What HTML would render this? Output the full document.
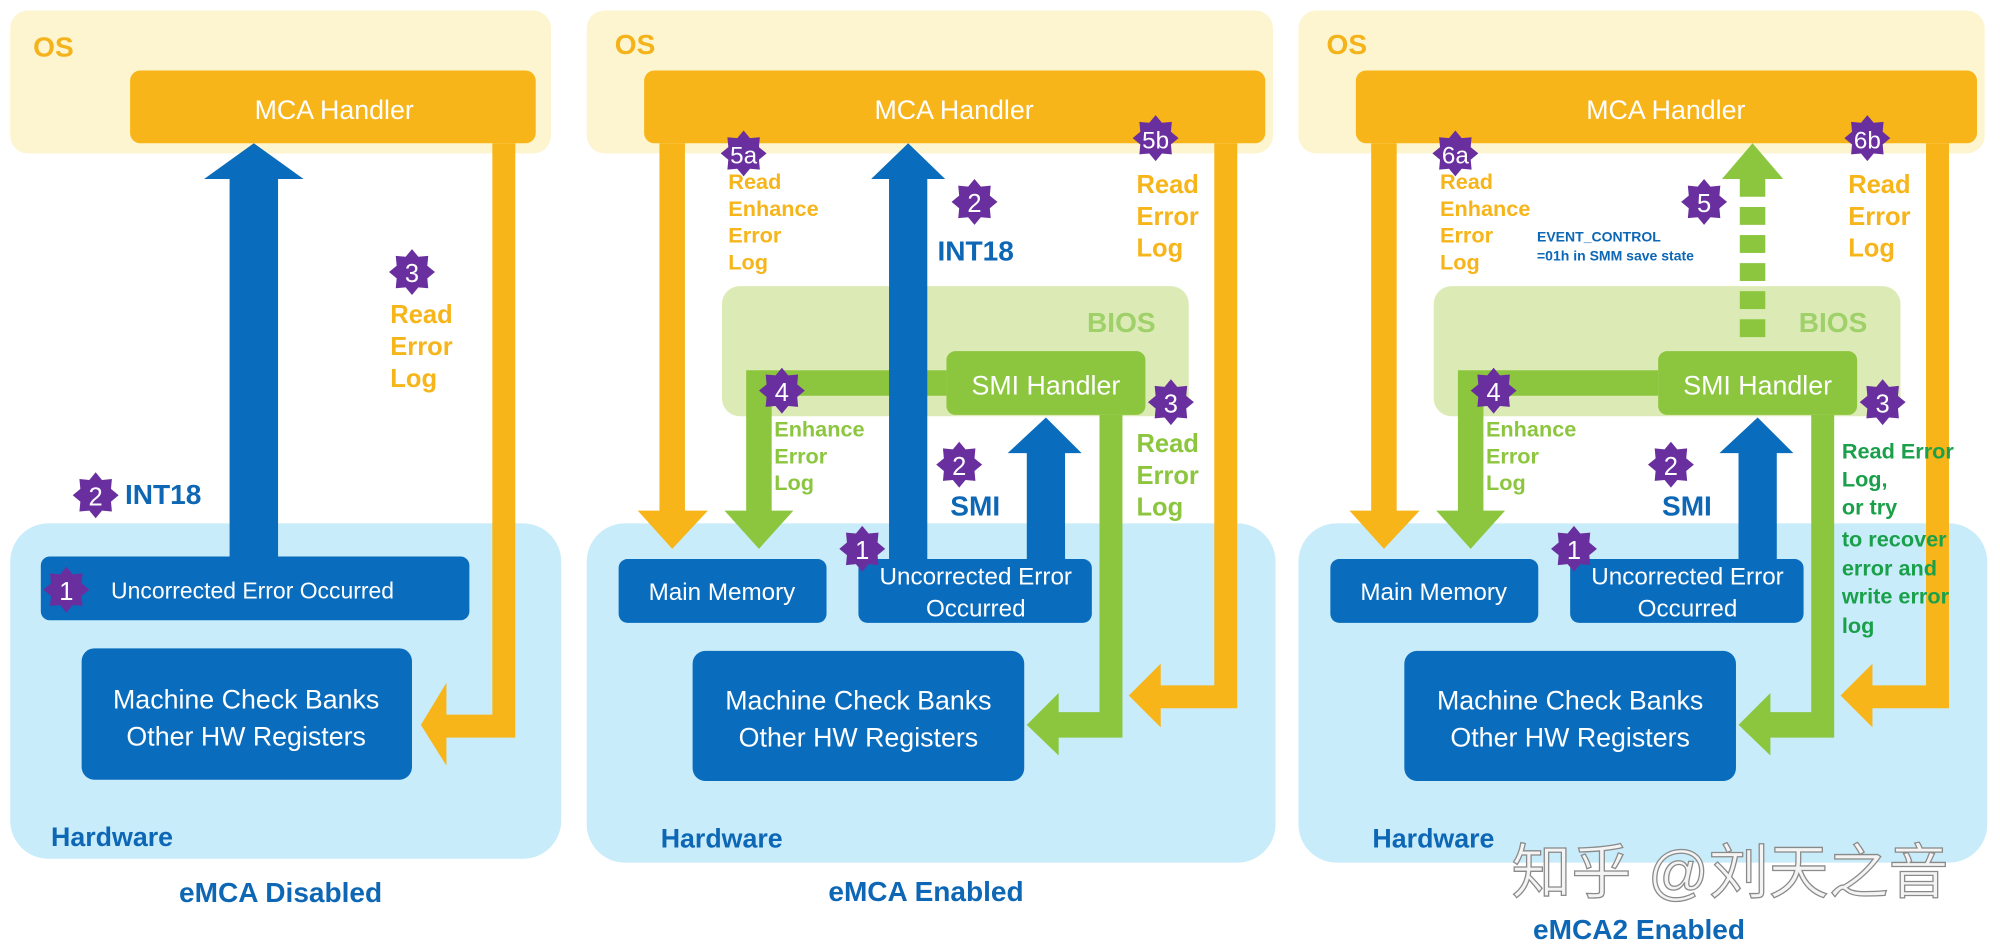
<!DOCTYPE html>
<html><head><meta charset="utf-8"><style>
html,body{margin:0;padding:0;background:#fff;width:2000px;height:951px;overflow:hidden}
svg{display:block}
text{font-family:"Liberation Sans","Noto Sans CJK SC",sans-serif}
.w{fill:#fff;font-size:21px}
.b{font-weight:bold}
</style></head><body>
<svg width="2000" height="951" viewBox="0 0 1568 745" xmlns="http://www.w3.org/2000/svg">
<defs>
<symbol id="st" viewBox="-19 -19 38 38" overflow="visible">
<polygon points="0,-18 4.97,-12.01 12.73,-12.73 12.01,-4.97 18,0 12.01,4.97 12.73,12.73 4.97,12.01 0,18 -4.97,12.01 -12.73,12.73 -12.01,4.97 -18,0 -12.01,-4.97 -12.73,-12.73 -4.97,-12.01" fill="#6a2f9e"/>
</symbol>
</defs>

<!-- ===== Panel 1 ===== -->
<rect x="8" y="8" width="424" height="112" rx="14" fill="#fdf5cf"/>
<text x="26" y="44" class="b" font-size="22" fill="#f4b21b">OS</text>
<rect x="102" y="55" width="318" height="57" rx="8" fill="#f7b51a"/>
<text x="262" y="93" class="w" text-anchor="middle">MCA  Handler</text>
<rect x="8" y="410" width="432" height="263" rx="30" fill="#c8ecfa"/>
<text x="40" y="663" class="b" font-size="21" fill="#0d67b5">Hardware</text>
<rect x="32" y="436" width="336" height="50" rx="7" fill="#0a6cbd"/>
<text x="198" y="469" fill="#fff" font-size="18" text-anchor="middle">Uncorrected Error Occurred</text>
<rect x="64" y="508" width="259" height="103" rx="10" fill="#0a6cbd"/>
<text x="193" y="555" class="w" text-anchor="middle">Machine Check Banks</text>
<text x="193" y="584" class="w" text-anchor="middle">Other HW Registers</text>
<polygon points="180,436 180,140 160,140 199,112 238,140 218,140 218,436" fill="#0a6cbd"/>
<polygon points="386,112 404,112 404,578 350,578 350,600 330,568 350,535 350,560 386,560" fill="#f7b51a"/>
<use href="#st" x="304" y="194" width="38" height="38"/><text x="323" y="221" fill="#fff" font-size="20" text-anchor="middle">3</text>
<text x="306" y="253" class="b" font-size="20" fill="#f6b51a">Read</text>
<text x="306" y="278" class="b" font-size="20" fill="#f6b51a">Error</text>
<text x="306" y="303" class="b" font-size="20" fill="#f6b51a">Log</text>
<use href="#st" x="56" y="369" width="38" height="38"/><text x="75" y="396" fill="#fff" font-size="20" text-anchor="middle">2</text>
<text x="98" y="395" class="b" font-size="22" fill="#0d67b5">INT18</text>
<use href="#st" x="33" y="443" width="38" height="38"/><text x="52" y="470" fill="#fff" font-size="20" text-anchor="middle">1</text>
<text x="220" y="707" class="b" font-size="22" fill="#0d67b5" text-anchor="middle">eMCA Disabled</text>

<!-- ===== Panel 2 ===== -->
<rect x="460" y="8" width="538" height="112" rx="14" fill="#fdf5cf"/>
<text x="482" y="42" class="b" font-size="22" fill="#f4b21b">OS</text>
<rect x="460" y="410" width="540" height="266" rx="30" fill="#c8ecfa"/>
<text x="518" y="664" class="b" font-size="21" fill="#0d67b5">Hardware</text>
<rect x="566" y="224" width="366" height="102" rx="14" fill="#dcebb5"/>
<text x="906" y="260" class="b" font-size="22" fill="#9fd06a" text-anchor="end">BIOS</text>
<rect x="505" y="55" width="487" height="57" rx="8" fill="#f7b51a"/>
<text x="748" y="93" class="w" text-anchor="middle">MCA Handler</text>
<rect x="485" y="438" width="163" height="50" rx="7" fill="#0a6cbd"/>
<text x="566" y="470" fill="#fff" font-size="19" text-anchor="middle">Main Memory</text>
<rect x="673" y="438" width="183" height="50" rx="7" fill="#0a6cbd"/>
<text x="765" y="458" fill="#fff" font-size="19" text-anchor="middle">Uncorrected Error</text>
<text x="765" y="483" fill="#fff" font-size="19" text-anchor="middle">Occurred</text>
<rect x="543" y="510" width="260" height="102" rx="10" fill="#0a6cbd"/>
<text x="673" y="556" class="w" text-anchor="middle">Machine Check Banks</text>
<text x="673" y="585" class="w" text-anchor="middle">Other HW Registers</text>
<polygon points="517,112 537,112 537,400 555,400 527,430 500,400 517,400" fill="#f7b51a"/>
<polygon points="742,290 742,310 605,310 605,400 622,400 595,430 568,400 585,400 585,290" fill="#8cc63f"/>
<rect x="742" y="275" width="156" height="50" rx="7" fill="#8cc63f"/>
<text x="820" y="309" class="w" text-anchor="middle">SMI Handler</text>
<polygon points="697,438 697,140 683,140 712,112 741,140 727,140 727,438" fill="#0a6cbd"/>
<polygon points="805,438 805,355 790,355 820,327 848,355 835,355 835,438" fill="#0a6cbd"/>
<polygon points="862,325 880,325 880,578 830,578 830,592 805,568 830,543 830,558 862,558" fill="#8cc63f"/>
<polygon points="952,112 970,112 970,555 910,555 910,570 885,545 910,520 910,537 952,537" fill="#f7b51a"/>
<use href="#st" x="564" y="101" width="38" height="38"/><text x="583" y="128" fill="#fff" font-size="19" text-anchor="middle">5a</text>
<use href="#st" x="887" y="89" width="38" height="38"/><text x="906" y="116" fill="#fff" font-size="19" text-anchor="middle">5b</text>
<use href="#st" x="745" y="139" width="38" height="38"/><text x="764" y="166" fill="#fff" font-size="20" text-anchor="middle">2</text>
<use href="#st" x="594" y="287" width="38" height="38"/><text x="613" y="314" fill="#fff" font-size="20" text-anchor="middle">4</text>
<use href="#st" x="899" y="296" width="38" height="38"/><text x="918" y="323" fill="#fff" font-size="20" text-anchor="middle">3</text>
<use href="#st" x="733" y="345" width="38" height="38"/><text x="752" y="372" fill="#fff" font-size="20" text-anchor="middle">2</text>
<use href="#st" x="657" y="411" width="38" height="38"/><text x="676" y="438" fill="#fff" font-size="20" text-anchor="middle">1</text>
<g class="b" font-size="17" fill="#f6b51a"><text x="571" y="148">Read</text><text x="571" y="169">Enhance</text><text x="571" y="190">Error</text><text x="571" y="211">Log</text></g>
<text x="735" y="204" class="b" font-size="22" fill="#0d67b5">INT18</text>
<g class="b" font-size="20" fill="#f6b51a"><text x="891" y="151">Read</text><text x="891" y="176">Error</text><text x="891" y="201">Log</text></g>
<g class="b" font-size="17" fill="#8cc63f"><text x="607" y="342">Enhance</text><text x="607" y="363">Error</text><text x="607" y="384">Log</text></g>
<g class="b" font-size="20" fill="#8cc63f"><text x="891" y="354">Read</text><text x="891" y="379">Error</text><text x="891" y="404">Log</text></g>
<text x="745" y="404" class="b" font-size="22" fill="#0d67b5">SMI</text>
<text x="726" y="706" class="b" font-size="22" fill="#0d67b5" text-anchor="middle">eMCA Enabled</text>

<!-- ===== Panel 3 ===== -->
<rect x="1018" y="8" width="538" height="112" rx="14" fill="#fdf5cf"/>
<text x="1040" y="42" class="b" font-size="22" fill="#f4b21b">OS</text>
<rect x="1018" y="410" width="540" height="266" rx="30" fill="#c8ecfa"/>
<text x="1076" y="664" class="b" font-size="21" fill="#0d67b5">Hardware</text>
<rect x="1124" y="224" width="366" height="102" rx="14" fill="#dcebb5"/>
<text x="1464" y="260" class="b" font-size="22" fill="#9fd06a" text-anchor="end">BIOS</text>
<rect x="1063" y="55" width="487" height="57" rx="8" fill="#f7b51a"/>
<text x="1306" y="93" class="w" text-anchor="middle">MCA Handler</text>
<rect x="1043" y="438" width="163" height="50" rx="7" fill="#0a6cbd"/>
<text x="1124" y="470" fill="#fff" font-size="19" text-anchor="middle">Main Memory</text>
<rect x="1231" y="438" width="183" height="50" rx="7" fill="#0a6cbd"/>
<text x="1323" y="458" fill="#fff" font-size="19" text-anchor="middle">Uncorrected Error</text>
<text x="1323" y="483" fill="#fff" font-size="19" text-anchor="middle">Occurred</text>
<rect x="1101" y="510" width="260" height="102" rx="10" fill="#0a6cbd"/>
<text x="1231" y="556" class="w" text-anchor="middle">Machine Check Banks</text>
<text x="1231" y="585" class="w" text-anchor="middle">Other HW Registers</text>
<polygon points="1075,112 1095,112 1095,400 1113,400 1085,430 1058,400 1075,400" fill="#f7b51a"/>
<polygon points="1300,290 1300,310 1163,310 1163,400 1180,400 1153,430 1126,400 1143,400 1143,290" fill="#8cc63f"/>
<g fill="#8cc63f">
<rect x="1364" y="250" width="20" height="14"/><rect x="1364" y="228" width="20" height="14"/>
<rect x="1364" y="206" width="20" height="14"/><rect x="1364" y="184" width="20" height="14"/>
<rect x="1364" y="162" width="20" height="14"/>
<polygon points="1364,154 1364,140 1350,140 1374,112 1398,140 1384,140 1384,154"/>
</g>
<rect x="1300" y="275" width="156" height="50" rx="7" fill="#8cc63f"/>
<text x="1378" y="309" class="w" text-anchor="middle">SMI Handler</text>
<polygon points="1363,438 1363,355 1348,355 1378,327 1406,355 1393,355 1393,438" fill="#0a6cbd"/>
<polygon points="1420,325 1438,325 1438,578 1388,578 1388,592 1363,568 1388,543 1388,558 1420,558" fill="#8cc63f"/>
<polygon points="1510,112 1528,112 1528,555 1468,555 1468,570 1443,545 1468,520 1468,537 1510,537" fill="#f7b51a"/>
<use href="#st" x="1122" y="101" width="38" height="38"/><text x="1141" y="128" fill="#fff" font-size="19" text-anchor="middle">6a</text>
<use href="#st" x="1445" y="89" width="38" height="38"/><text x="1464" y="116" fill="#fff" font-size="19" text-anchor="middle">6b</text>
<use href="#st" x="1317" y="139" width="38" height="38"/><text x="1336" y="166" fill="#fff" font-size="20" text-anchor="middle">5</text>
<use href="#st" x="1152" y="287" width="38" height="38"/><text x="1171" y="314" fill="#fff" font-size="20" text-anchor="middle">4</text>
<use href="#st" x="1457" y="296" width="38" height="38"/><text x="1476" y="323" fill="#fff" font-size="20" text-anchor="middle">3</text>
<use href="#st" x="1291" y="345" width="38" height="38"/><text x="1310" y="372" fill="#fff" font-size="20" text-anchor="middle">2</text>
<use href="#st" x="1215" y="411" width="38" height="38"/><text x="1234" y="438" fill="#fff" font-size="20" text-anchor="middle">1</text>
<g class="b" font-size="17" fill="#f6b51a"><text x="1129" y="148">Read</text><text x="1129" y="169">Enhance</text><text x="1129" y="190">Error</text><text x="1129" y="211">Log</text></g>
<g class="b" font-size="11" fill="#0d67b5"><text x="1205" y="189">EVENT_CONTROL</text><text x="1205" y="204">=01h in SMM save state</text></g>
<g class="b" font-size="20" fill="#f6b51a"><text x="1449" y="151">Read</text><text x="1449" y="176">Error</text><text x="1449" y="201">Log</text></g>
<g class="b" font-size="17" fill="#8cc63f"><text x="1165" y="342">Enhance</text><text x="1165" y="363">Error</text><text x="1165" y="384">Log</text></g>
<g class="b" font-size="17" fill="#1aa04a"><text x="1444" y="359">Read Error</text><text x="1444" y="381">Log,</text><text x="1444" y="403">or try</text><text x="1444" y="428">to recover</text><text x="1444" y="451">error and</text><text x="1444" y="473">write error</text><text x="1444" y="496">log</text></g>
<text x="1303" y="404" class="b" font-size="22" fill="#0d67b5">SMI</text>
<text x="1285" y="736" class="b" font-size="22" fill="#0d67b5" text-anchor="middle">eMCA2 Enabled</text>
<text x="1185" y="700" font-size="47" fill="#f4f4f4" stroke="#8a8a8a" stroke-width="1">知乎 @刘天之音</text>
</svg>
</body></html>
